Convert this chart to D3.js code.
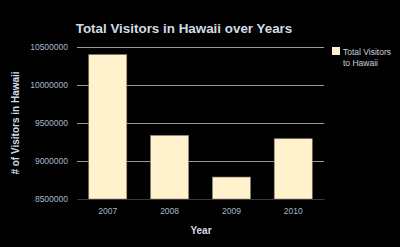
<!DOCTYPE html>
<html>
<head>
<meta charset="utf-8">
<script src="https://cdn.jsdelivr.net/npm/d3@7"></script>
<style>
  html, body { margin: 0; padding: 0; background: #000; }
  svg { display: block; font-family: "Liberation Sans", Arial, sans-serif; }
</style>
</head>
<body>
<svg id="chart" width="400" height="247"></svg>
<script>
// chart data
var years = ['2007', '2008', '2009', '2010'];
var visitors = [10400000, 9337000, 8789000, 9293000];
var yTicks = [8500000, 9000000, 9500000, 10000000, 10500000];

var svg = d3.select('#chart');
var margin = {top: 47, left: 77, right: 76, bottom: 48};
var width = 400 - margin.left - margin.right;
var height = 247 - margin.top - margin.bottom;

svg.append('rect').attr('width', 400).attr('height', 247).attr('fill', '#000');

var g = svg.append('g')
  .attr('transform', 'translate(' + margin.left + ',' + margin.top + ')');

var x = d3.scaleBand().domain(years).range([0, width]).paddingInner(0.385).paddingOuter(0.19);
var y = d3.scaleLinear().domain([8500000, 10500000]).range([height, 0]);

// grid lines
g.selectAll('.grid')
  .data(yTicks.slice(1))
  .enter()
  .append('line')
  .attr('x1', 0)
  .attr('x2', width)
  .attr('y1', function(d) { return y(d) + 0.5; })
  .attr('y2', function(d) { return y(d) + 0.5; })
  .attr('stroke', '#9a9a9a')
  .attr('stroke-width', 1);

// y axis labels
var yAxis = d3.axisLeft(y).tickValues(yTicks).tickSize(0).tickPadding(9).tickFormat(d3.format('d'));
var ya = g.append('g').call(yAxis);
ya.select('.domain').remove();
ya.selectAll('text')
  .attr('fill', '#a9b8cc')
  .style('font-size', '8.5px');

// bars
g.selectAll('.bar')
  .data(visitors)
  .enter()
  .append('rect')
  .attr('x', function(d, i) { return x(years[i]); })
  .attr('y', function(d) { return y(d); })
  .attr('width', x.bandwidth())
  .attr('height', function(d) { return height - y(d); })
  .attr('fill', '#fff2cc')
  .attr('stroke', '#8a8470')
  .attr('stroke-width', 0.6);

// x axis
var xAxis = d3.axisBottom(x).tickSize(0).tickPadding(9);
var xa = g.append('g').attr('transform', 'translate(0,' + height + ')').call(xAxis);
xa.select('.domain').attr('stroke', '#3a3a3a');
xa.selectAll('text')
  .attr('fill', '#a9b8cc')
  .style('font-size', '8.5px');

// titles
svg.append('text')
  .attr('x', 184)
  .attr('y', 33)
  .attr('text-anchor', 'middle')
  .attr('fill', '#d2dbe6')
  .style('font-weight', 'bold')
  .style('font-size', '13.4px')
  .text('Total Visitors in Hawaii over Years');

svg.append('text')
  .attr('x', 201)
  .attr('y', 234)
  .attr('text-anchor', 'middle')
  .attr('fill', '#d2dbe6')
  .style('font-weight', 'bold')
  .style('font-size', '10px')
  .text('Year');

svg.append('text')
  .attr('transform', 'translate(19,123) rotate(-90)')
  .attr('text-anchor', 'middle')
  .attr('fill', '#d2dbe6')
  .style('font-weight', 'bold')
  .style('font-size', '10px')
  .text('# of Visitors in Hawaii');

// legend
var legend = svg.append('g').attr('transform', 'translate(332,47)');
legend.append('rect')
  .attr('width', 8)
  .attr('height', 8)
  .attr('fill', '#fff2cc');
legend.append('text')
  .attr('x', 11)
  .attr('y', 7.5)
  .attr('fill', '#c9d2de')
  .style('font-size', '8.5px')
  .text('Total Visitors');
legend.append('text')
  .attr('x', 11)
  .attr('y', 19)
  .attr('fill', '#c9d2de')
  .style('font-size', '8.5px')
  .text('to Hawaii');
</script>
</body>
</html>
